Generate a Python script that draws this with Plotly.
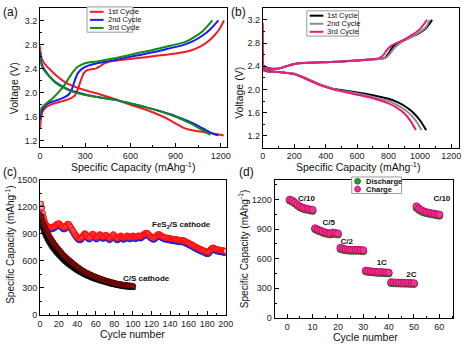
import plotly.graph_objects as go

# ---------------- Panel (a) data ----------------
a_dis1_x = [0, 5, 15, 30, 60, 100, 150, 200, 300, 400, 500, 600, 700, 800, 850, 900, 950, 1000, 1050, 1100, 1150, 1200, 1220]
a_dis1_y = [2.78, 2.62, 2.54, 2.48, 2.40, 2.30, 2.20, 2.13, 2.04, 1.97, 1.89, 1.80, 1.72, 1.62, 1.56, 1.49, 1.42, 1.38, 1.36, 1.34, 1.32, 1.30, 1.29]
a_dis2_x = [0, 5, 15, 30, 60, 100, 150, 200, 300, 400, 500, 600, 700, 800, 900, 1000, 1050, 1100, 1130, 1160, 1185]
a_dis2_y = [2.68, 2.55, 2.45, 2.38, 2.28, 2.18, 2.10, 2.04, 1.97, 1.92, 1.88, 1.82, 1.76, 1.69, 1.61, 1.51, 1.45, 1.38, 1.34, 1.31, 1.29]
a_dis3_x = [0, 5, 15, 30, 60, 100, 150, 200, 300, 400, 500, 600, 700, 800, 900, 1000, 1050, 1100, 1130]
a_dis3_y = [2.60, 2.50, 2.42, 2.36, 2.27, 2.17, 2.09, 2.03, 1.96, 1.92, 1.88, 1.82, 1.76, 1.69, 1.60, 1.49, 1.42, 1.35, 1.30]
a_chg1_x = [0, 5, 15, 40, 80, 150, 200, 230, 250, 270, 290, 310, 340, 370, 400, 430, 470, 520, 600, 700, 800, 900, 1000, 1060, 1100, 1150, 1190, 1222]
a_chg1_y = [1.40, 1.55, 1.68, 1.76, 1.81, 1.86, 1.90, 1.95, 2.05, 2.20, 2.32, 2.37, 2.39, 2.40, 2.44, 2.49, 2.52, 2.54, 2.56, 2.59, 2.62, 2.65, 2.70, 2.76, 2.82, 2.93, 3.05, 3.20]
a_chg2_x = [0, 5, 15, 40, 80, 120, 160, 190, 210, 230, 250, 280, 320, 380, 450, 550, 650, 750, 850, 950, 1020, 1080, 1130, 1160, 1185]
a_chg2_y = [1.55, 1.64, 1.72, 1.80, 1.85, 1.88, 1.92, 1.97, 2.05, 2.20, 2.32, 2.40, 2.45, 2.49, 2.52, 2.57, 2.62, 2.67, 2.73, 2.79, 2.86, 2.95, 3.05, 3.13, 3.20]
a_chg3_x = [0, 5, 15, 40, 80, 120, 160, 190, 220, 250, 280, 320, 380, 450, 550, 650, 750, 850, 920, 980, 1030, 1080, 1110, 1145]
a_chg3_y = [1.65, 1.72, 1.76, 1.82, 1.90, 2.00, 2.12, 2.24, 2.35, 2.43, 2.47, 2.50, 2.52, 2.55, 2.60, 2.66, 2.71, 2.77, 2.81, 2.86, 2.93, 3.02, 3.10, 3.20]
a_legend = ["1st Cycle", "2nd Cycle", "3rd Cycle"]

# ---------------- Panel (b) data ----------------
b_dis1_x = [0, 30, 100, 200, 250, 300, 350, 400, 450, 500, 600, 700, 800, 850, 900, 950, 1000, 1040]
b_dis1_y = [2.34, 2.32, 2.30, 2.27, 2.22, 2.16, 2.10, 2.05, 2.01, 1.99, 1.95, 1.90, 1.84, 1.79, 1.72, 1.62, 1.47, 1.30]
b_dis2_x = [0, 30, 100, 200, 250, 300, 350, 400, 450, 500, 600, 700, 800, 850, 900, 950, 980, 1010]
b_dis2_y = [2.33, 2.31, 2.30, 2.27, 2.22, 2.16, 2.10, 2.05, 2.01, 1.98, 1.93, 1.87, 1.80, 1.74, 1.66, 1.54, 1.44, 1.30]
b_dis3_x = [0, 2, 5, 30, 100, 200, 250, 300, 350, 400, 450, 500, 600, 700, 800, 850, 900, 940, 975]
b_dis3_y = [3.15, 2.45, 2.33, 2.31, 2.30, 2.26, 2.21, 2.15, 2.09, 2.04, 2.00, 1.97, 1.91, 1.85, 1.76, 1.69, 1.59, 1.46, 1.30]
b_chg1_x = [0, 20, 50, 100, 150, 200, 300, 400, 500, 600, 700, 750, 780, 800, 830, 860, 900, 950, 1000, 1040, 1060, 1078]
b_chg1_y = [2.42, 2.38, 2.36, 2.36, 2.40, 2.44, 2.46, 2.47, 2.48, 2.50, 2.52, 2.53, 2.55, 2.62, 2.74, 2.80, 2.85, 2.91, 2.98, 3.06, 3.13, 3.20]
b_chg2_x = [0, 20, 50, 100, 150, 200, 300, 400, 500, 600, 700, 760, 790, 810, 840, 870, 900, 950, 1000, 1040, 1062]
b_chg2_y = [2.40, 2.37, 2.35, 2.36, 2.40, 2.44, 2.46, 2.47, 2.48, 2.50, 2.52, 2.53, 2.56, 2.62, 2.72, 2.79, 2.84, 2.91, 2.99, 3.08, 3.20]
b_chg3_x = [0, 20, 50, 100, 150, 200, 300, 400, 500, 600, 700, 740, 770, 790, 820, 860, 900, 950, 1000, 1025, 1045]
b_chg3_y = [2.38, 2.36, 2.35, 2.36, 2.40, 2.44, 2.46, 2.47, 2.48, 2.50, 2.52, 2.54, 2.60, 2.68, 2.76, 2.81, 2.86, 2.94, 3.04, 3.12, 3.20]
b_legend = ["1st Cycle", "2nd Cycle", "3rd Cycle"]

# ---------------- Panel (c) data ----------------
c_fes_charge = [
    1235, 1190, 1130, 1080, 1040, 1010, 995, 985, 980, 978,
    975, 972, 975, 978, 985, 990, 1000, 1010, 1015, 1018,
    1012, 1000, 990, 982, 975, 972, 978, 990, 1005, 1012,
    1008, 995, 978, 960, 945, 928, 910, 895, 880, 868,
    858, 852, 850, 855, 865, 880, 895, 905, 900, 888,
    875, 865, 860, 868, 885, 898, 900, 890, 875, 865,
    862, 870, 885, 895, 892, 880, 870, 868, 875, 885,
    888, 880, 868, 858, 855, 862, 875, 888, 895, 885,
    870, 858, 852, 855, 865, 875, 880, 872, 862, 858,
    862, 870, 878, 880, 872, 865, 862, 868, 876, 880,
    875, 868, 865, 870, 878, 882, 878, 872, 875, 884,
    892, 898, 905, 910, 912, 905, 895, 885, 875, 868,
    862, 858, 860, 868, 878, 888, 895, 898, 892, 882,
    880, 872, 866, 862, 860, 858, 856, 855, 853, 850,
    848, 846, 845, 843, 842, 840, 838, 836, 834, 832,
    830, 830, 832, 830, 826, 820, 815, 810, 806, 800,
    795, 790, 784, 778, 772, 766, 760, 755, 750, 745,
    740, 735, 730, 726, 722, 718, 712, 706, 702, 700,
    700, 705, 718, 732, 742, 748, 746, 740, 735, 730,
    728, 726, 724, 722, 720, 718, 716, 714, 712, 710]
c_fes_discharge = [
    1150, 1120, 1080, 1040, 1005, 980, 965, 958, 955, 952,
    950, 948, 950, 953, 960, 966, 975, 984, 990, 992,
    988, 976, 965, 957, 950, 948, 952, 964, 978, 986,
    982, 970, 953, 936, 920, 903, 886, 870, 856, 844,
    834, 828, 826, 830, 840, 855, 870, 880, 876, 864,
    850, 840, 836, 843, 860, 873, 876, 866, 850, 840,
    837, 845, 860, 870, 868, 856, 846, 843, 850, 860,
    864, 856, 843, 833, 830, 837, 850, 863, 870, 860,
    845, 833, 827, 830, 840, 850, 855, 847, 837, 833,
    837, 845, 853, 855, 847, 840, 837, 843, 851, 855,
    850, 843, 840, 845, 853, 857, 853, 847, 850, 859,
    867, 873, 880, 885, 887, 880, 870, 860, 850, 843,
    837, 833, 835, 843, 853, 863, 870, 873, 867, 857,
    855, 847, 841, 837, 835, 833, 831, 830, 828, 825,
    823, 821, 820, 818, 817, 815, 813, 811, 809, 807,
    805, 805, 807, 805, 801, 795, 790, 785, 781, 775,
    770, 765, 759, 753, 747, 741, 735, 730, 725, 720,
    715, 710, 705, 701, 697, 693, 687, 681, 677, 675,
    675, 680, 693, 707, 717, 723, 721, 715, 710, 705,
    703, 701, 699, 697, 695, 693, 691, 689, 687, 685]
c_cs_charge = [
    1110, 1080, 1040, 1010, 985, 960, 940, 915, 895, 875,
    860, 842, 825, 812, 795, 780, 770, 752, 742, 728,
    718, 702, 695, 680, 668, 660, 648, 640, 628, 620,
    612, 600, 595, 585, 578, 565, 560, 550, 545, 535,
    528, 522, 515, 505, 500, 492, 488, 480, 475, 468,
    465, 458, 455, 448, 445, 440, 435, 430, 428, 422,
    418, 415, 410, 408, 402, 398, 395, 392, 388, 385,
    380, 378, 375, 372, 370, 366, 364, 360, 358, 356,
    352, 350, 348, 345, 344, 342, 340, 338, 336, 335,
    333, 332, 330, 329, 328, 327, 326, 325, 324, 323]
c_cs_discharge = [
    1050, 1000, 970, 940, 915, 890, 870, 850, 830, 812,
    798, 780, 765, 752, 738, 725, 712, 700, 688, 676,
    665, 655, 645, 632, 622, 612, 602, 595, 585, 576,
    568, 560, 552, 545, 538, 530, 522, 515, 508, 502,
    496, 490, 483, 478, 472, 466, 460, 455, 450, 445,
    440, 436, 431, 427, 423, 418, 414, 410, 406, 402,
    398, 395, 392, 388, 385, 382, 379, 376, 373, 370,
    367, 364, 361, 358, 355, 352, 349, 346, 344, 342,
    340, 337, 335, 333, 331, 329, 327, 325, 323, 321,
    319, 318, 317, 316, 315, 314, 313, 312, 311, 310]

# ---------------- Panel (d) data ----------------
d_discharge = [
    1190, 1178, 1160, 1140, 1120, 1110, 1100, 1095, 1090, 1085,
    898, 885, 875, 865, 855, 850, 845, 852, 850, 845,
    698, 690, 685, 682, 680, 680, 680, 680, 678, 676,
    470, 466, 462, 460, 458, 456, 455, 454, 452, 450,
    352, 350, 349, 348, 347, 347, 346, 345, 344, 343,
    1115, 1095, 1078, 1068, 1060, 1055, 1050, 1045, 1040, 1035]
d_charge = [
    1200, 1190, 1170, 1150, 1130, 1120, 1112, 1105, 1100, 1096,
    910, 897, 886, 876, 866, 860, 857, 866, 861, 856,
    712, 702, 696, 692, 690, 690, 690, 690, 688, 686,
    480, 476, 472, 469, 467, 465, 464, 463, 461, 459,
    362, 359, 358, 357, 356, 355, 355, 354, 353, 352,
    1132, 1110, 1092, 1080, 1072, 1066, 1061, 1056, 1052, 1048]
d_rate_labels = ["C/10", "C/5", "C/2", "1C", "2C", "C/10"]
d_rate_x = [7.6, 16.4, 23.5, 37.3, 49, 61]
d_rate_y = [1210, 960, 765, 552, 434, 1210]
d_legend = ["Discharge", "Charge"]

W, H = 474, 351
FONT = "Liberation Sans, Arial, sans-serif"

def fx(px):
    return px / W

def fy(py):
    return 1 - py / H

fig = go.Figure()

RED, BLUE, GREEN = "#ee1c25", "#1a1aff", "#138a13"
BLACK, GRAY, PINK = "#000000", "#8c8c8c", "#ea1a80"
D_GREEN, D_PINK = "#2a9a2a", "#f0358e"

# (a)
for xs, ys, col in [
    (a_dis1_x, a_dis1_y, RED), (a_chg1_x, a_chg1_y, RED),
    (a_dis2_x, a_dis2_y, BLUE), (a_chg2_x, a_chg2_y, BLUE),
    (a_dis3_x, a_dis3_y, GREEN), (a_chg3_x, a_chg3_y, GREEN),
]:
    fig.add_trace(go.Scatter(x=xs, y=ys, mode="lines", line=dict(color=col, width=2, shape="spline", smoothing=0.6),
                             showlegend=False, xaxis="x", yaxis="y"))

# (b)
for xs, ys, col in [
    (b_dis1_x, b_dis1_y, BLACK), (b_chg1_x, b_chg1_y, BLACK),
    (b_dis2_x, b_dis2_y, GRAY), (b_chg2_x, b_chg2_y, GRAY),
    (b_dis3_x, b_dis3_y, PINK), (b_chg3_x, b_chg3_y, PINK),
]:
    fig.add_trace(go.Scatter(x=xs, y=ys, mode="lines", line=dict(color=col, width=2, shape="spline", smoothing=0.6),
                             showlegend=False, xaxis="x2", yaxis="y2"))

# (c)
cyc200 = list(range(1, len(c_fes_charge) + 1))
cyc100 = list(range(1, len(c_cs_charge) + 1))
fig.add_trace(go.Scatter(x=cyc200, y=c_fes_discharge, mode="markers", showlegend=False,
                         marker=dict(size=5, color="#2a3cff", line=dict(color="#1010c0", width=0.5)),
                         xaxis="x3", yaxis="y3"))
fig.add_trace(go.Scatter(x=cyc200, y=c_fes_charge, mode="markers", showlegend=False,
                         marker=dict(size=5, color="#ffb0b0", line=dict(color="#ff1010", width=1.2)),
                         xaxis="x3", yaxis="y3"))
fig.add_trace(go.Scatter(x=cyc100, y=c_cs_discharge, mode="markers", showlegend=False,
                         marker=dict(size=5, symbol="square", color="#111111", line=dict(color="#000000", width=0.5)),
                         xaxis="x3", yaxis="y3"))
fig.add_trace(go.Scatter(x=cyc100, y=c_cs_charge, mode="markers", showlegend=False,
                         marker=dict(size=5, color="#8a1010", line=dict(color="#5a0505", width=0.8)),
                         xaxis="x3", yaxis="y3"))

# (d)
cyc60 = list(range(1, len(d_charge) + 1))
fig.add_trace(go.Scatter(x=cyc60, y=d_discharge, mode="markers", showlegend=False,
                         marker=dict(size=7, color=D_GREEN, line=dict(color="#0f5f0f", width=0.8)),
                         xaxis="x4", yaxis="y4"))
fig.add_trace(go.Scatter(x=cyc60, y=d_charge, mode="markers", showlegend=False,
                         marker=dict(size=7, color=D_PINK, line=dict(color="#b8005a", width=0.8)),
                         xaxis="x4", yaxis="y4"))
fig.add_trace(go.Scatter(x=d_rate_x, y=d_rate_y, mode="text", text=["<b>%s</b>" % t for t in d_rate_labels],
                         textfont=dict(size=8, color="#111111", family=FONT), showlegend=False,
                         xaxis="x4", yaxis="y4"))

tickfont = dict(size=9, color="#222222", family=FONT)

def ax(domain, rng, dtick, minor_dtick, anchor, fmt=None):
    d = dict(domain=domain, range=rng, dtick=dtick, tick0=0, ticks="inside", ticklen=4, tickwidth=1,
             tickcolor="#000", showline=True, linecolor="#000", linewidth=1, mirror=True,
             showgrid=False, zeroline=False, tickfont=tickfont, anchor=anchor,
             minor=dict(dtick=minor_dtick, tick0=0, ticks="inside", ticklen=2, tickcolor="#000", showgrid=False))
    if fmt:
        d["tickformat"] = fmt
    return d

fig.update_layout(
    width=W, height=H, margin=dict(l=0, r=0, t=0, b=0),
    paper_bgcolor="white", plot_bgcolor="white", showlegend=False,
    font=dict(family=FONT, color="#111111"),
    xaxis=ax([fx(38), fx(229)], [0, 1240], 300, 150, "y"),
    yaxis=ax([fy(146), fy(3.5)], [1.1, 3.4], 0.4, 0.2, "x", ".1f"),
    xaxis2=ax([fx(266), fx(467)], [0, 1250], 200, 100, "y2"),
    yaxis2=ax([fy(146.7), fy(3.3)], [1.0, 3.4], 0.4, 0.2, "x2", ".1f"),
    xaxis3=ax([fx(38), fx(228)], [0, 200], 20, 10, "y3"),
    yaxis3=ax([fy(319), fy(180)], [0, 1500], 300, 150, "x3"),
    xaxis4=ax([fx(278), fx(461)], [-5, 65.5], 10, 5, "y4"),
    yaxis4=ax([fy(322), fy(180)], [0, 1400], 300, 150, "x4"),
)

ann = []
shapes = []

def txt(x, y, s, size=11, angle=0, anchor="center", bold=False):
    ann.append(dict(x=fx(x), y=fy(y), xref="paper", yref="paper", text=("<b>%s</b>" % s) if bold else s,
                    showarrow=False, font=dict(size=size, family=FONT, color="#111111"), textangle=angle,
                    xanchor=anchor, yanchor="middle"))

def box(x0, y0, x1, y1):
    shapes.append(dict(type="rect", xref="paper", yref="paper", x0=fx(x0), x1=fx(x1), y0=fy(y1), y1=fy(y0),
                       line=dict(color="#9a9a9a", width=1), fillcolor="white", layer="above"))

def seg(x0, x1, y, col):
    shapes.append(dict(type="line", xref="paper", yref="paper", x0=fx(x0), x1=fx(x1), y0=fy(y), y1=fy(y),
                       line=dict(color=col, width=2), layer="above"))

def dot(x, y, r, col, edge):
    shapes.append(dict(type="circle", xref="paper", yref="paper", x0=fx(x - r), x1=fx(x + r), y0=fy(y + r),
                       y1=fy(y - r), line=dict(color=edge, width=0.8), fillcolor=col, layer="above"))

# panel labels
txt(8, 7, "(a)", 12)
txt(241, 7, "(b)", 12)
txt(7, 172, "(c)", 12)
txt(249, 172, "(d)", 12)
# axis titles
txt(133, 166, "Specific Capacity (mAhg<sup>-1</sup>)", 10.5)
txt(11, 86, "Voltage (V)", 10.5, -90)
txt(363, 166, "Specific Capacity (mAhg<sup>-1</sup>)", 10.5)
txt(242, 90, "Voltage (V)", 10.5, -90)
txt(133, 339, "Cycle number", 10.5)
txt(7, 246, "Specific Capacity (mAhg<sup>-1</sup>)", 10, -90)
txt(371, 342, "Cycle number", 10.5)
txt(246, 251, "Specific Capacity (mAhg<sup>-1</sup>)", 10, -90)

# legend (a)
box(86, 2, 133, 28)
for i, (name, col) in enumerate(zip(a_legend, [RED, BLUE, GREEN])):
    yy = 7 + i * 8.3
    seg(89, 103, yy, col)
    txt(105, yy, name, 7.5, anchor="left")
# legend (b)
box(311, 6, 364, 32)
for i, (name, col) in enumerate(zip(b_legend, [BLACK, GRAY, PINK])):
    yy = 11 + i * 8.3
    seg(314, 328, yy, col)
    txt(330, yy, name, 7.5, anchor="left")
# legend (d)
box(357, 177, 408, 194)
for i, (name, col, edge) in enumerate(zip(d_legend, [D_GREEN, D_PINK], ["#0f5f0f", "#b8005a"])):
    yy = 181.5 + i * 8
    dot(363, yy, 3, col, edge)
    txt(370, yy, name, 7.5, anchor="left", bold=True)

fig.update_layout(annotations=ann, shapes=shapes)

# panel (c) in-plot labels (data coordinates)
fig.add_annotation(x=152, y=995, xref="x3", yref="y3", text="<b>FeS<sub>2</sub>/S cathode</b>", showarrow=False,
                   font=dict(size=8, family=FONT, color="#111111"))
fig.add_annotation(x=115, y=402, xref="x3", yref="y3", text="<b>C/S cathode</b>", showarrow=False,
                   font=dict(size=8, family=FONT, color="#111111"))

fig.write_html("out.html")
